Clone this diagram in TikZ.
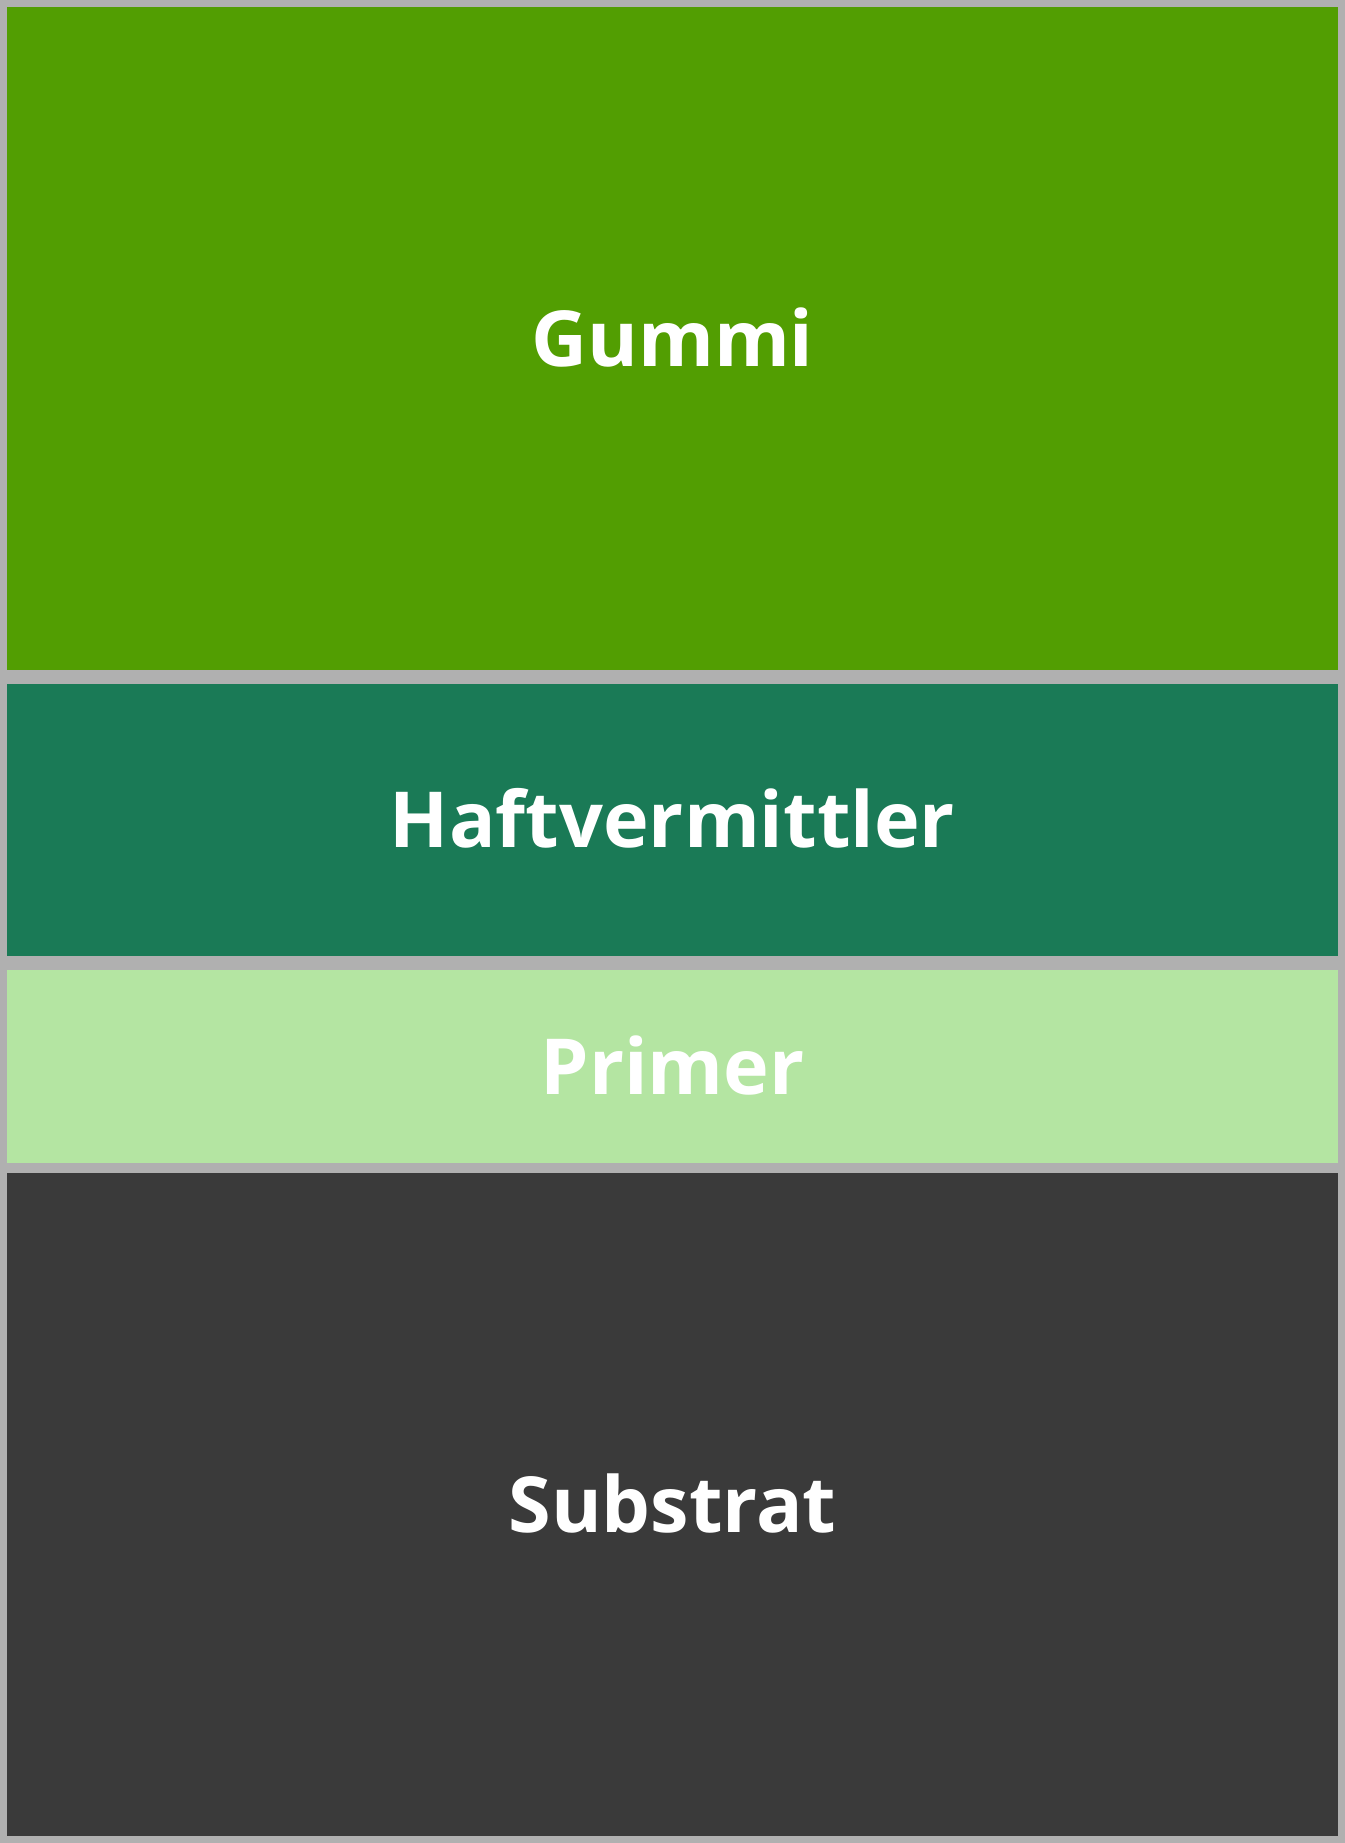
\documentclass[tikz,border=0pt]{standalone}
\usepackage{fontspec}
\setmainfont{Open Sans}
\usepackage{tikz}

\definecolor{framegray}{HTML}{B0B0B0}
\definecolor{gummigreen}{HTML}{529E02}
\definecolor{haftgreen}{HTML}{1A7A56}
\definecolor{primergreen}{HTML}{B4E5A2}
\definecolor{substratgray}{HTML}{3A3A3A}

\tikzset{
  layerlabel/.style={text=white, font=\fontsize{44}{53}\selectfont\bfseries,
    inner sep=0pt, text height=31.4pt, text depth=0pt, anchor=center}
}

\begin{document}
\begin{tikzpicture}[x=0.02cm, y=-0.02cm]
                \useasboundingbox (0,0) rectangle (1345,1843);
                \fill[framegray] (0,0) rectangle (1345,1843);
                \foreach \name/\top/\bot/\col in {Gummi/7/670/gummigreen, Haftvermittler/684/956/haftgreen, Primer/970/1163/primergreen, Substrat/1173/1836/substratgray}
                {
                    \fill[\col] (7,\top) rectangle (1338,\bot);
                    \node[layerlabel] (\name) at (672.5,{(\top+\bot)/2}) {\name};
                }
            \end{tikzpicture}
\end{document}
